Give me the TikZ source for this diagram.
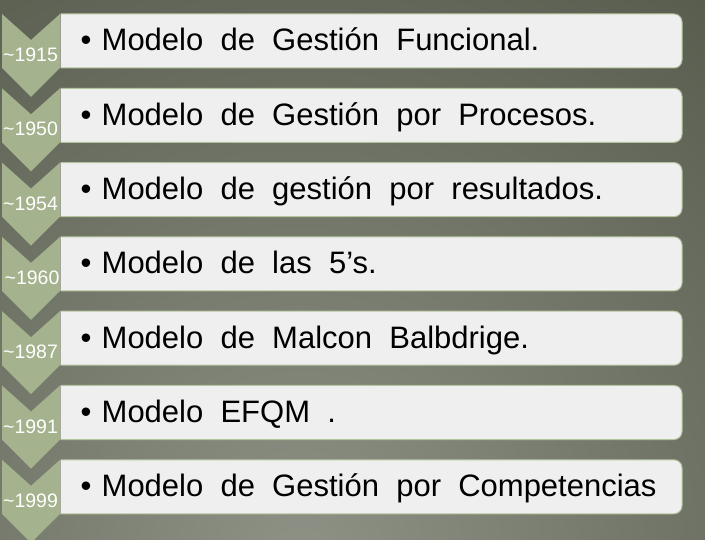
\documentclass[tikz,border=0pt]{standalone}
\usepackage{fontspec}
\setmainfont{Liberation Sans}
\newfontfamily\widefont{Liberation Sans}[WordSpace=2]
\usetikzlibrary{calc,positioning}
\definecolor{bgdark}{HTML}{4C5041}
\definecolor{bglight}{HTML}{8E9286}
\definecolor{chev}{HTML}{A4B28E}
\definecolor{boxfill}{HTML}{EFEFEF}
\definecolor{boxline}{HTML}{B3C39B}
\begin{document}
\begin{tikzpicture}[x=1pt, y=-1pt, lbl/.style={inner sep=0pt, anchor=base}]
\tikzstyle{arrowbox}=[fill=chev]
\tikzstyle{itembox}=[fill=boxfill, draw=boxline, line width=1pt]
\tikzstyle{year}=[lbl, text=white, font=\fontsize{19.5}{20}\selectfont]
\tikzstyle{item}=[lbl, anchor=base west, font=\widefont\fontsize{31}{34}\selectfont]
\useasboundingbox (0,0) rectangle (705,540);
\begin{scope}
\clip (0,0) rectangle (705,540);
\shade[inner color=bglight, outer color=bgdark] (-560,-300) rectangle (1160,1420);
\end{scope}
\foreach \i/\yr/\dx/\txt in {0/1915/0/{Modelo de Gestión Funcional.},1/1950/0/{Modelo de Gestión por Procesos.},2/1954/0/{Modelo de gestión por resultados.},3/1960/1.5/{Modelo de las 5’s.},4/1987/0/{Modelo de Malcon Balbdrige.},5/1991/0/{Modelo EFQM .},6/1999/0/{Modelo de Gestión por Competencias}}{
\pgfmathsetmacro{\t}{14+74.3*\i}
\fill[arrowbox] (2,\t) -- (31,\t+26) -- (60,\t) -- (60,\t+54) -- (31,\t+83) -- (2,\t+54) -- cycle;
\draw[itembox] (60.5,\t) -- (674,\t) arc[start angle=-90, end angle=0, radius=8] -- (682,\t+46) arc[start angle=0, end angle=90, radius=8] -- (60.5,\t+54);
\node[year] (y\i) at (30.5+\dx,\t+47.5) {\textasciitilde\yr};
\node[item] (m\i) at (80.5,\t+37) {\makebox[21pt][l]{•}\txt};
}
\end{tikzpicture}
\end{document}
